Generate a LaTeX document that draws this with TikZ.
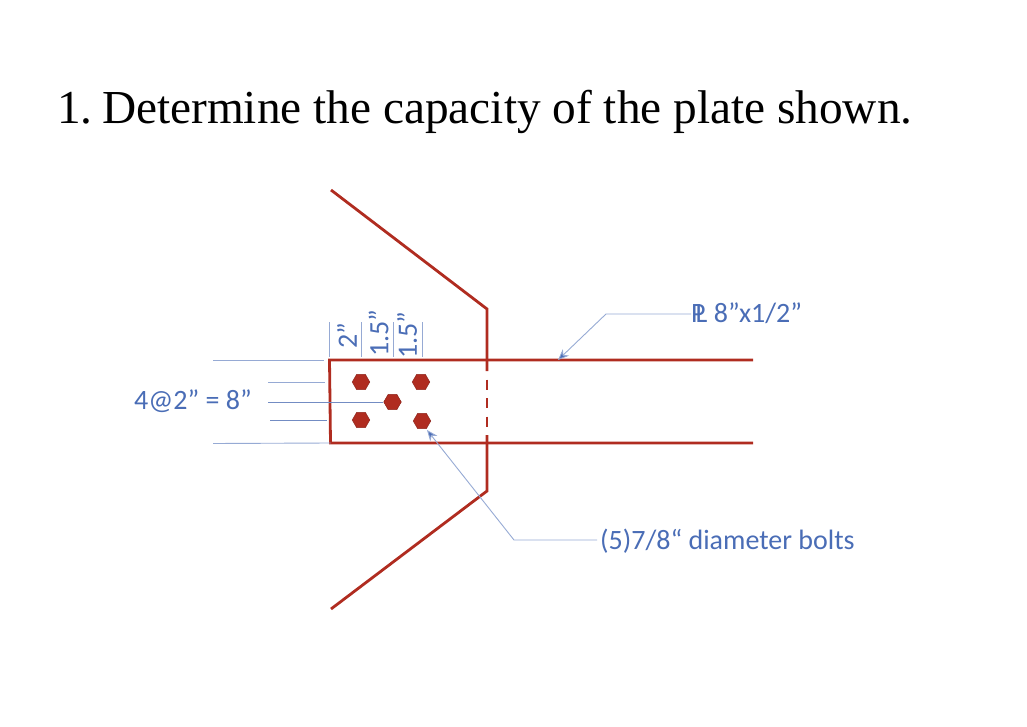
\documentclass[tikz,border=0pt]{standalone}
\usepackage{fontspec}
\setmainfont{Liberation Serif}
\newfontfamily\lblfont{Carlito}
\usetikzlibrary{shapes.geometric,arrows.meta}
\definecolor{plate}{RGB}{176,44,32}
\definecolor{lbl}{RGB}{74,109,182}
\definecolor{thin}{RGB}{150,170,212}
\definecolor{thindark}{RGB}{115,140,195}
\tikzset{
  x=1pt,y=-1pt,
  plateline/.style={draw=plate,line width=2.8pt,line join=miter},
  dimline/.style={draw=thin,line width=0.9pt},
  dimdark/.style={draw=thindark,line width=0.9pt},
  leader/.style={draw=thin,line width=0.9pt,-{Stealth[length=11pt,width=9pt,fill=lbl]}},
  bolt/.style={regular polygon,regular polygon sides=6,minimum size=17.5pt,inner sep=0pt,fill=plate,draw=plate!80!black,line width=0.5pt},
  lbltext/.style={font=\lblfont\fontsize{28}{30}\selectfont,text=lbl,inner sep=0pt},
  dimtext/.style={font=\lblfont\fontsize{28}{30}\selectfont,text=lbl,inner sep=0pt,rotate=90}
}
\begin{document}
\begin{tikzpicture}
\useasboundingbox (0,0) rectangle (1027,727);
\node[anchor=base west,inner sep=0pt,font=\fontsize{47.3}{50}\selectfont] (title) at (57,124) {1.\kern9.5pt Determine the capacity of the plate shown.};
% plate
\coordinate (pa) at (753,360); \coordinate (pb) at (329.5,360);
\coordinate (pc) at (330.5,443); \coordinate (pd) at (753,443);
\draw[plateline] (pa) -- (pb) -- (pc) -- (pd);
% gusset
\coordinate (ga) at (331,190); \coordinate (gb) at (487,309); \coordinate (gc) at (487,371);
\coordinate (gd) at (487,435); \coordinate (ge) at (487,491); \coordinate (gf) at (331,609);
\draw[plateline] (ga) -- (gb) -- (gc);
\draw[plateline,dash pattern=on 10pt off 8.5pt,dash phase=10pt] (gc) -- (gd);
\draw[plateline] (gd) -- (ge) -- (gf);
% bolts
\node[bolt] (b1) at (361,382) {};
\node[bolt] (b2) at (421,382) {};
\node[bolt] (b3) at (392.5,402) {};
\node[bolt] (b4) at (361,420) {};
\node[bolt] (b5) at (422,421) {};
% left dimension lines
\coordinate (l1a) at (213,360.5); \coordinate (l1b) at (324,360.5);
\coordinate (l2a) at (268,382); \coordinate (l2b) at (325,382);
\coordinate (l3a) at (268,402); \coordinate (l4a) at (270,420); \coordinate (l4b) at (327,420);
\coordinate (l5a) at (213,443.5);
\draw[dimline] (l1a) -- (l1b);
\draw[dimline] (l2a) -- (l2b);
\draw[dimdark] (l3a) -- (b3.west);
\draw[dimdark] (l4a) -- (l4b);
\draw[dimline] (l5a) -- (pc);
% top dimension lines
\coordinate (t1a) at (329,322); \coordinate (t1b) at (329,357);
\coordinate (t2a) at (361.5,322); \coordinate (t2b) at (361.5,357);
\coordinate (t3a) at (393,322); \coordinate (t3b) at (393,357);
\coordinate (t4a) at (422,322); \coordinate (t4b) at (422,357);
\draw[dimline] (t1a) -- (t1b);
\draw[dimline] (t2a) -- (t2b);
\draw[dimline] (t3a) -- (t3b);
\draw[dimline] (t4a) -- (t4b);
% labels
\node[lbltext,anchor=base west] (span) at (134,409) {4@2” = 8”};
\node[dimtext,anchor=center] (d1) at (347,336) {2”};
\node[dimtext,anchor=center] (d2) at (378.5,333) {1.5”};
\node[dimtext,anchor=center] (d3) at (407,335) {1.5”};
\node[lbltext,anchor=base west] (pl) at (691,322) {\rlap{P}\kern4.5pt L 8”x1/2”};
\node[lbltext,anchor=base west] (bl) at (600,549) {(5)7/8“ diameter bolts};
% leaders
\coordinate (k1) at (606,314); \coordinate (k2) at (514,540);
\coordinate (e1) at (558,360); \coordinate (e2) at (427,430);
\draw[leader] (pl.west |- k1) -- (k1) -- (e1);
\draw[leader] (bl.west |- k2) ++(-3,0) -- (k2) -- (e2);
\end{tikzpicture}
\end{document}
